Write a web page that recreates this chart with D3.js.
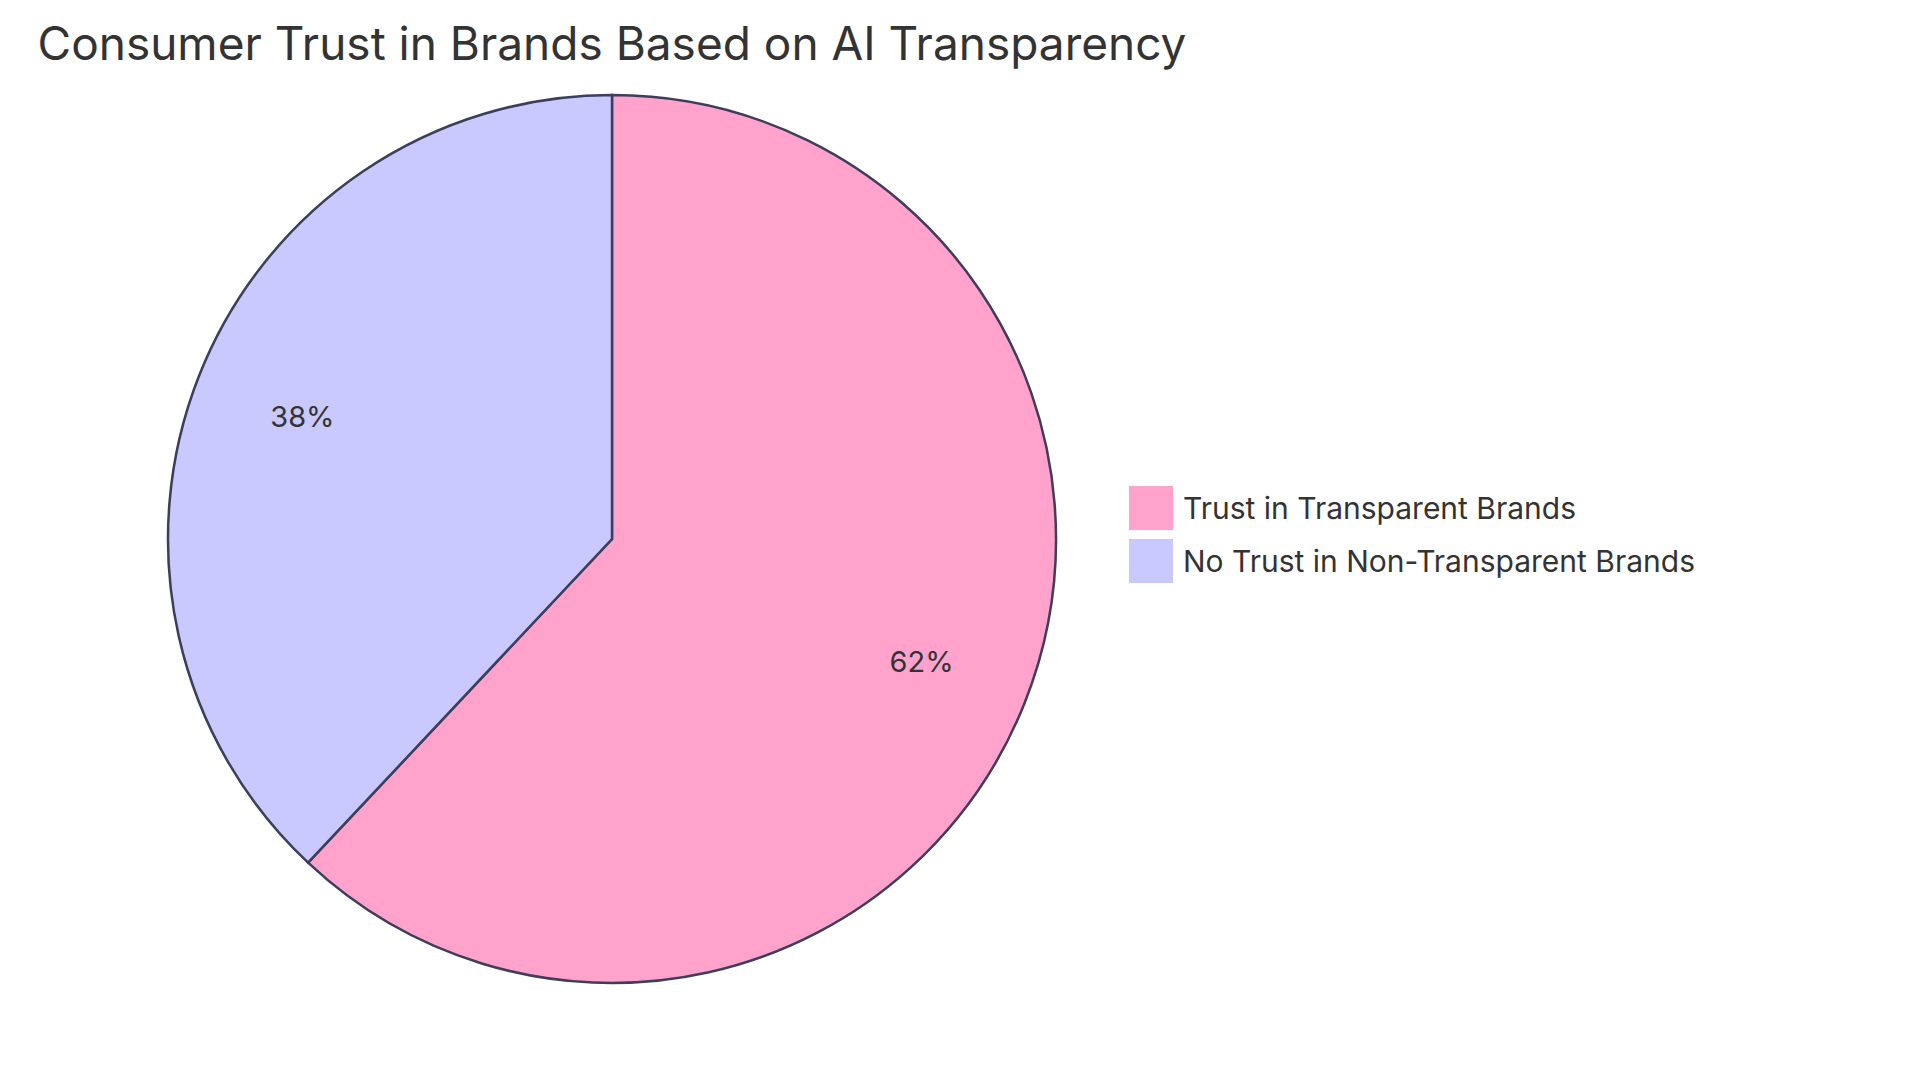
<!DOCTYPE html>
<html>
<head>
<meta charset="utf-8">
<script src="https://cdn.jsdelivr.net/npm/d3@7"></script>
<style>
  body { margin: 0; background: #fff; }
  text { font-family: "Inter", "Noto Sans", sans-serif; fill: #333; }
</style>
</head>
<body>
<svg id="chart" width="1920" height="1083"></svg>
<script>
var labels = ["Trust in Transparent Brands", "No Trust in Non-Transparent Brands"];
var values = [62, 38];
var colors = ["#ffa3cc", "#c9c9ff"];

var svg = d3.select("#chart");
var cx = 612, cy = 539, r = 444;

svg.append("text")
    .attr("x", cx)
    .attr("y", 60)
    .attr("text-anchor", "middle")
    .attr("font-size", "46px")
    .text("Consumer Trust in Brands Based on AI Transparency");

var pie = d3.pie().sort(null).value(function(d) { return d; });
var arc = d3.arc().innerRadius(0).outerRadius(r);
var labelArc = d3.arc().innerRadius(r * 0.75).outerRadius(r * 0.75);
var total = d3.sum(values);

var g = svg.append("g").attr("transform", "translate(" + cx + "," + cy + ")");

var slices = g.selectAll(".slice")
    .data(pie(values))
    .enter().append("g")
    .attr("class", "slice");

slices.append("path")
    .attr("d", arc)
    .attr("fill", function(d, i) { return colors[i]; })
    .attr("stroke", "#3d3d5c")
    .attr("stroke-width", 2.5);

slices.append("text")
    .attr("transform", function(d) { return "translate(" + labelArc.centroid(d) + ")"; })
    .attr("text-anchor", "middle")
    .attr("dy", "0.35em")
    .attr("font-size", "29px")
    .text(function(d) { return Math.round(d.value / total * 100) + "%"; });

var legend = svg.append("g").attr("transform", "translate(1129,486)");
var items = legend.selectAll(".item")
    .data(labels)
    .enter().append("g")
    .attr("class", "item")
    .attr("transform", function(d, i) { return "translate(0," + (i * 53) + ")"; });

items.append("rect")
    .attr("width", 44)
    .attr("height", 44)
    .attr("fill", function(d, i) { return colors[i]; });

items.append("text")
    .attr("x", 54)
    .attr("y", 22)
    .attr("dy", "0.35em")
    .attr("font-size", "30px")
    .text(function(d) { return d; });
</script>
</body>
</html>
